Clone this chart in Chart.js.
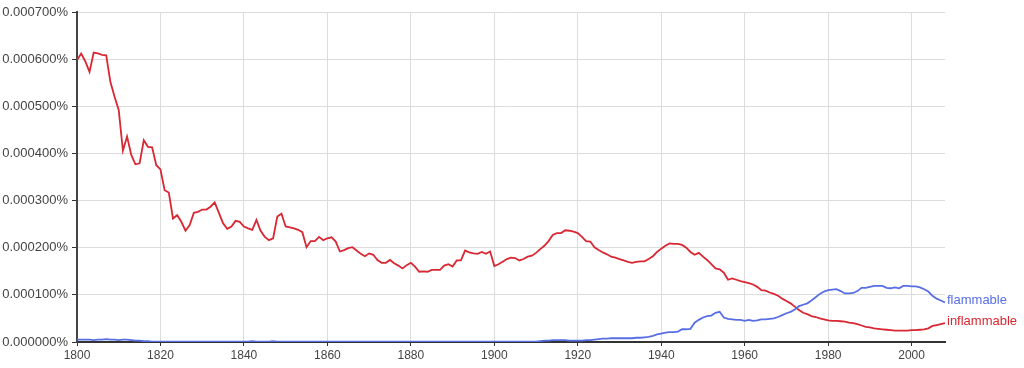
<!DOCTYPE html>
<html>
<head>
<meta charset="utf-8">
<script src="https://cdn.jsdelivr.net/npm/chart.js@4/dist/chart.umd.min.js"></script>
<style>
  html, body { margin: 0; padding: 0; background: #fff; }
  #wrap { width: 1024px; height: 368px; }
</style>
</head>
<body>
<div id="wrap"><canvas id="c" width="1024" height="368"></canvas></div>
<script>
const years = [
  1800,1801,1802,1803,1804,1805,1806,1807,1808,1809,
  1810,1811,1812,1813,1814,1815,1816,1817,1818,1819,
  1820,1821,1822,1823,1824,1825,1826,1827,1828,1829,
  1830,1831,1832,1833,1834,1835,1836,1837,1838,1839,
  1840,1841,1842,1843,1844,1845,1846,1847,1848,1849,
  1850,1851,1852,1853,1854,1855,1856,1857,1858,1859,
  1860,1861,1862,1863,1864,1865,1866,1867,1868,1869,
  1870,1871,1872,1873,1874,1875,1876,1877,1878,1879,
  1880,1881,1882,1883,1884,1885,1886,1887,1888,1889,
  1890,1891,1892,1893,1894,1895,1896,1897,1898,1899,
  1900,1901,1902,1903,1904,1905,1906,1907,1908,1909,
  1910,1911,1912,1913,1914,1915,1916,1917,1918,1919,
  1920,1921,1922,1923,1924,1925,1926,1927,1928,1929,
  1930,1931,1932,1933,1934,1935,1936,1937,1938,1939,
  1940,1941,1942,1943,1944,1945,1946,1947,1948,1949,
  1950,1951,1952,1953,1954,1955,1956,1957,1958,1959,
  1960,1961,1962,1963,1964,1965,1966,1967,1968,1969,
  1970,1971,1972,1973,1974,1975,1976,1977,1978,1979,
  1980,1981,1982,1983,1984,1985,1986,1987,1988,1989,
  1990,1991,1992,1993,1994,1995,1996,1997,1998,1999,
  2000,2001,2002,2003,2004,2005,2006,2007,2008
];

// values in percent
const inflammable = [
  0.000598,0.000612,0.000595,0.000573,0.000614,0.000612,0.000609,0.000608,0.000552,0.000520,
  0.000492,0.000406,0.000436,0.000397,0.000377,0.000379,0.000428,0.000414,0.000413,0.000375,
  0.000366,0.000322,0.000317,0.000262,0.000269,0.000255,0.000236,0.000248,0.000274,0.000276,
  0.000281,0.000281,0.000287,0.000296,0.000274,0.000252,0.000240,0.000245,0.000257,0.000255,
  0.000245,0.000241,0.000238,0.000259,0.000236,0.000223,0.000216,0.000220,0.000266,0.000272,
  0.000245,0.000243,0.000241,0.000238,0.000233,0.000201,0.000214,0.000214,0.000223,0.000216,
  0.000220,0.000222,0.000213,0.000192,0.000195,0.000199,0.000201,0.000194,0.000187,0.000182,
  0.000188,0.000185,0.000174,0.000168,0.000168,0.000174,0.000167,0.000162,0.000156,0.000163,
  0.000168,0.000160,0.000149,0.000150,0.000149,0.000153,0.000153,0.000153,0.000162,0.000165,
  0.000160,0.000173,0.000173,0.000194,0.000190,0.000188,0.000187,0.000191,0.000187,0.000192,
  0.000161,0.000165,0.000170,0.000176,0.000179,0.000178,0.000173,0.000176,0.000181,0.000183,
  0.000189,0.000197,0.000204,0.000214,0.000227,0.000231,0.000231,0.000237,0.000236,0.000234,
  0.000231,0.000223,0.000214,0.000213,0.000201,0.000195,0.000190,0.000186,0.000181,0.000179,
  0.000176,0.000173,0.000170,0.000168,0.000170,0.000171,0.000171,0.000176,0.000182,0.000191,
  0.000198,0.000204,0.000209,0.000208,0.000208,0.000206,0.000200,0.000191,0.000185,0.000189,
  0.000181,0.000174,0.000165,0.000156,0.000154,0.000147,0.000132,0.000135,0.000132,0.000129,
  0.000127,0.000125,0.000122,0.000117,0.000110,0.000109,0.000105,0.000102,0.000098,0.000092,
  0.000087,0.000082,0.000075,0.000068,0.000062,0.000059,0.000055,0.000053,0.000050,0.000048,
  0.000046,0.000045,0.000045,0.000044,0.000043,0.000041,0.000040,0.000038,0.000035,0.000032,
  0.000031,0.000029,0.000028,0.000027,0.000026,0.000025,0.000024,0.000024,0.000024,0.000024,
  0.000025,0.000025,0.000026,0.000027,0.000029,0.000034,0.000036,0.000038,0.000040
];

const flammable = [
  0.000005,0.000005,0.000005,0.000005,0.000004,0.000005,0.000005,0.000006,0.000005,0.000005,
  0.000004,0.000005,0.000005,0.000004,0.000003,0.000003,0.000002,0.000002,0.000001,0.000001,
  0.000001,0.000001,0.000001,0.000001,0.000001,0.000001,0.000001,0.000001,0.000001,0.000001,
  0.000001,0.000001,0.000001,0.000001,0.000001,0.000001,0.000001,0.000001,0.000001,0.000001,
  0.000001,0.000001,0.000002,0.000001,0.000001,0.000001,0.000001,0.000002,0.000001,0.000001,
  0.000001,0.000001,0.000001,0.000001,0.000001,0.000001,0.000001,0.000001,0.000001,0.000001,
  0.000001,0.000001,0.000001,0.000001,0.000001,0.000001,0.000001,0.000001,0.000001,0.000001,
  0.000001,0.000001,0.000001,0.000001,0.000001,0.000001,0.000001,0.000001,0.000001,0.000001,
  0.000001,0.000001,0.000001,0.000001,0.000001,0.000001,0.000001,0.000001,0.000001,0.000001,
  0.000001,0.000001,0.000001,0.000001,0.000001,0.000001,0.000001,0.000001,0.000001,0.000001,
  0.000001,0.000001,0.000001,0.000001,0.000001,0.000001,0.000001,0.000001,0.000001,0.000001,
  0.000001,0.000002,0.000003,0.000003,0.000004,0.000004,0.000004,0.000004,0.000003,0.000003,
  0.000003,0.000003,0.000004,0.000004,0.000005,0.000006,0.000007,0.000007,0.000008,0.000008,
  0.000008,0.000008,0.000008,0.000008,0.000009,0.000009,0.000010,0.000011,0.000013,0.000016,
  0.000018,0.000020,0.000021,0.000021,0.000022,0.000027,0.000027,0.000028,0.000041,0.000047,
  0.000052,0.000055,0.000056,0.000062,0.000064,0.000052,0.000049,0.000048,0.000047,0.000047,
  0.000045,0.000047,0.000045,0.000046,0.000048,0.000048,0.000049,0.000050,0.000053,0.000057,
  0.000061,0.000064,0.000069,0.000076,0.000079,0.000082,0.000088,0.000095,0.000102,0.000107,
  0.000110,0.000111,0.000112,0.000108,0.000103,0.000103,0.000104,0.000108,0.000115,0.000115,
  0.000117,0.000119,0.000119,0.000119,0.000115,0.000114,0.000116,0.000114,0.000119,0.000119,
  0.000118,0.000118,0.000116,0.000112,0.000107,0.000098,0.000092,0.000088,0.000084
];

const seriesNames = ['flammable', 'inflammable'];
const xTickYears = [1800, 1820, 1840, 1860, 1880, 1900, 1920, 1940, 1960, 1980, 2000];

const BLUE = 'rgb(88,110,228)';
const RED = 'rgb(216,40,52)';
const FONT = 'Arial, "Liberation Sans", sans-serif';

function toPoints(vals) { return vals.map((v, i) => ({ x: years[i], y: v })); }

const endLabels = {
  id: 'endLabels',
  afterDatasetsDraw(chart) {
    const ctx = chart.ctx;
    const area = chart.chartArea;
    const ys = chart.scales.y;
    ctx.save();
    ctx.font = '13px ' + FONT;
    ctx.textAlign = 'left';
    ctx.textBaseline = 'middle';
    chart.data.datasets.forEach(ds => {
      const last = ds.data[ds.data.length - 1].y;
      ctx.fillStyle = ds.borderColor;
      ctx.fillText(ds.label, area.right + 2, ys.getPixelForValue(last) - 2);
    });
    ctx.restore();
  }
};

new Chart(document.getElementById('c'), {
  type: 'line',
  data: {
    datasets: [
      { label: seriesNames[0], data: toPoints(flammable), borderColor: BLUE, borderWidth: 1.8, pointRadius: 0, tension: 0, fill: false },
      { label: seriesNames[1], data: toPoints(inflammable), borderColor: RED, borderWidth: 1.8, pointRadius: 0, tension: 0, fill: false }
    ]
  },
  options: {
    responsive: false,
    animation: false,
    devicePixelRatio: 1,
    layout: { padding: { top: 12, right: 79, bottom: 0, left: 0 } },
    plugins: { legend: { display: false }, tooltip: { enabled: false } },
    scales: {
      x: {
        type: 'linear',
        min: 1800,
        max: 2008,
        afterBuildTicks(axis) { axis.ticks = xTickYears.map(v => ({ value: v })); },
        afterFit(axis) { axis.height = 26; },
        grid: { color: '#dcdcdc', lineWidth: 1, tickLength: 4, tickColor: '#333' },
        border: { color: '#333', width: 2 },
        ticks: { color: '#444', font: { family: FONT, size: 12 }, padding: 2, maxRotation: 0, autoSkip: false,
                 callback: v => String(v) }
      },
      y: {
        min: 0,
        max: 0.0007,
        afterBuildTicks(axis) {
          const t = [];
          for (let k = 0; k <= 7; k++) t.push({ value: k / 10000 });
          axis.ticks = t;
        },
        afterFit(axis) { axis.width = 77; },
        grid: { color: '#dcdcdc', lineWidth: 1, tickLength: 5, tickColor: '#333' },
        border: { color: '#444', width: 2 },
        ticks: { color: '#444', font: { family: FONT, size: 13 }, padding: 4,
                 callback: v => v.toFixed(6) + '%' }
      }
    }
  },
  plugins: [endLabels]
});
</script>
</body>
</html>
